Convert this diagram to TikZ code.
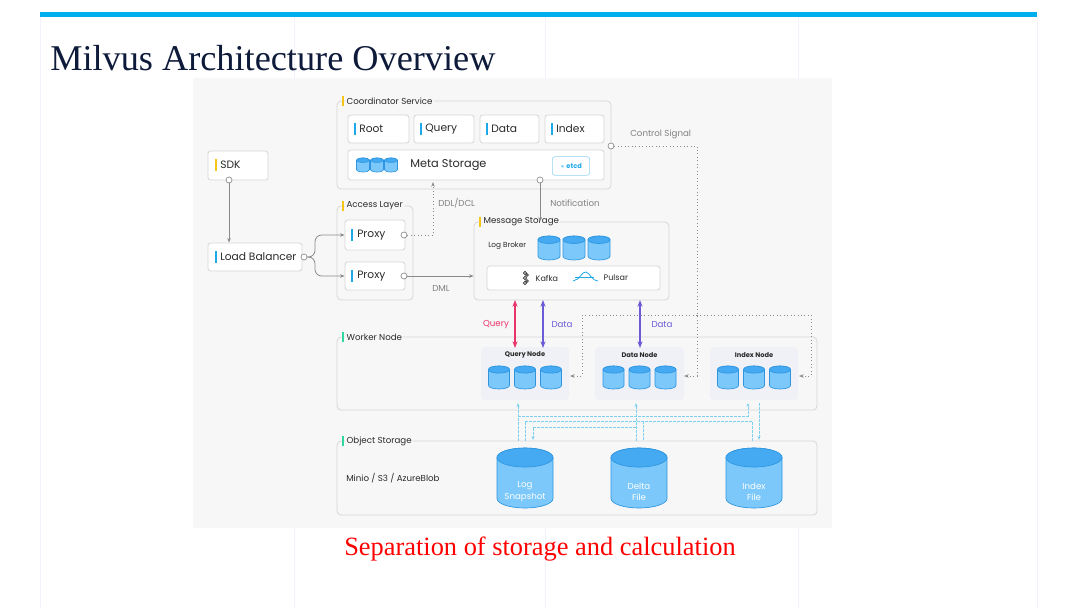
\documentclass[tikz,border=0pt]{standalone}
\usepackage{fontspec}
\setmainfont{Liberation Serif}
\newfontfamily\pop{Poppins}
\usetikzlibrary{fit,arrows.meta,calc}
\definecolor{dbg}{HTML}{F7F7F7}
\definecolor{bord}{HTML}{D6D6D6}
\definecolor{txt}{HTML}{2A2A2A}
\definecolor{yelbar}{HTML}{F5C518}
\definecolor{bbar}{HTML}{1FA8E8}
\definecolor{grnbar}{HTML}{2ED8A0}
\definecolor{cylf}{HTML}{7CC8FB}
\definecolor{cylt}{HTML}{45AAF2}
\definecolor{cylb}{HTML}{2E96E0}
\definecolor{qred}{HTML}{E8336B}
\definecolor{dpur}{HTML}{6B5BD6}
\definecolor{lblue}{HTML}{7DD0F0}
\definecolor{conn}{HTML}{8A8A8A}
\definecolor{slideblue}{HTML}{00AEEF}
\definecolor{navy}{HTML}{0E1A3A}
\newcommand\mycyl[4]{% cx, top y, width, height
  \pgfmathsetmacro\cxx{#1}\pgfmathsetmacro\rx{#3/2}\pgfmathsetmacro\ry{#3*0.17}
  \fill[cylf,draw=cylb,line width=0.5pt] (\cxx-\rx,#2+\ry) -- (\cxx-\rx,#2+#4-\ry) arc[start angle=180,end angle=0,x radius=\rx,y radius=\ry] -- (\cxx+\rx,#2+\ry) arc[start angle=0,end angle=-180,x radius=\rx,y radius=\ry] -- cycle;
  \fill[cylt,draw=cylb,line width=0.5pt] (\cxx,#2+\ry) ellipse[x radius=\rx,y radius=\ry];
}
\tikzset{
  x=0.75pt,y=-0.75pt,
  grp/.style={draw=bord,fill=dbg,rounded corners=3pt,inner sep=0pt,line width=0.6pt},
  box/.style={draw=bord,fill=white,rounded corners=2pt,inner sep=0pt,line width=0.6pt},
  sub/.style={draw=none,fill=blue!3!dbg,rounded corners=3pt,inner sep=0pt},
  lab/.style={anchor=west,font=\pop\fontsize{6.5}{7}\selectfont,text=txt,inner sep=1pt,fill=dbg},
  blab/.style={anchor=west,font=\pop\fontsize{8}{9}\selectfont,text=txt,inner sep=0pt},
  glab/.style={font=\pop\fontsize{6.5}{7}\selectfont,text=gray,anchor=west,inner sep=0pt},
  port/.style={circle,draw=conn,fill=white,inner sep=0pt,minimum size=4.5pt,line width=0.5pt},
  ar/.style={draw=conn,line width=0.6pt,-{Stealth[length=3.5pt]}},
  dar/.style={draw=conn,line width=0.6pt,dotted,-{Stealth[length=3.5pt]}},
  lb/.style={draw=lblue,line width=0.6pt,dashed,dash pattern=on 2pt off 1pt},
  lba/.style={lb,-{Stealth[length=3pt]}},
  cyltext/.style={text=white,font=\pop\fontsize{6.5}{8}\selectfont,inner sep=0pt},
}
\newcommand\gbarlab[4]{\draw[draw=#3,line width=1.2pt] (#1,#2-5) -- (#1,#2+5); \node[lab,anchor=west] at (#1+2,#2) {#4};}
\newcommand\bbar[2]{\draw[draw=bbar,line width=1.2pt] (#1,#2-6) -- (#1,#2+6);}
\begin{document}
\begin{tikzpicture}
\useasboundingbox (0,0) rectangle (1080,608);
\fill[white] (0,0) rectangle (1080,608);
% slide decoration
\foreach \xx in {40,294,545,798,1037} {\draw[blue!5,line width=0.6pt] (\xx,17) -- (\xx,608);}
\fill[slideblue] (40,12) rectangle (1037,17);
\node[anchor=base west,inner sep=0,text=navy,font=\fontsize{27.2}{30}\selectfont] (title) at (50,70) {Milvus Architecture Overview};
\fill[dbg] (193,78) rectangle (832,528);
\node[text=red,font=\fontsize{19.8}{22}\selectfont,inner sep=0] (cap) at (540,549) {Separation of storage and calculation};

% Coordinator
\node[grp,fit={(337,101)(611,189)}] (coord) {};
\gbarlab{343}{101}{yelbar}{Coordinator Service}
\foreach \nm/\a/\b/\t in {root/348/409/Root,query/414/474/Query,data/480/539/Data,index/545/604/Index}{
  \node[box,fit={(\a,115)(\b,143)}] (\nm) {};
  \bbar{\a+7}{129}
  \node[blab] at (\a+11,129) {\t};
}
\node[box,fit={(348,150)(604,180)}] (meta) {};
\foreach \cx in {363,377,391} {\mycyl{\cx}{158}{13}{14}}
\node[blab,font=\pop\fontsize{8.5}{9}\selectfont] at (410,165) {Meta Storage};
\node[draw=bbar!50,fill=white,rounded corners=2pt,minimum width=28pt,minimum height=14pt,font=\pop\bfseries\fontsize{5}{5}\selectfont,text=bbar] (etcd) at (571,166) {$\ast$\ etcd};

% SDK / LB
\node[box,fit={(208,151)(268,180)}] (sdk) {};
\draw[draw=yelbar,line width=1.2pt] (216,159) -- (216,171);
\node[blab] at (220,165) {SDK};
\node[box,fit={(208,243)(302,271)}] (lb) {};
\bbar{216}{257}
\node[blab] at (220,257) {Load Balancer};
\node[port] (sdkp) at (229,180) {};
\draw[ar] (sdkp) -- (lb.north -| sdkp);

% Access layer
\node[grp,fit={(337,206)(413,300)}] (access) {};
\gbarlab{343}{206}{yelbar}{Access Layer}
\node[box,fit={(345,220)(405,250)}] (proxy1) {};
\node[box,fit={(345,262)(405,290)}] (proxy2) {};
\bbar{352}{235}\node[blab] at (357,235) {Proxy};
\bbar{352}{276}\node[blab] at (357,276) {Proxy};
\node[port] (lbp) at (304,257) {};
\draw[ar,rounded corners=5pt] (lbp) -- (315,257) -- (315,235) -- (proxy1.west);
\draw[ar,rounded corners=5pt] (lbp) -- (315,257) -- (315,276) -- (proxy2.west);
\node[port] (p1p) at (404,235) {};
\node[port] (p2p) at (404,276) {};

% Message storage
\node[grp,fit={(474,222)(669,300)}] (msg) {};
\gbarlab{480}{222}{yelbar}{Message Storage}
\node[anchor=west,inner sep=0,font=\pop\fontsize{5.5}{6}\selectfont,text=txt] at (488,246) {Log Broker};
\foreach \cx in {549,574,599} {\mycyl{\cx}{236}{22}{24}}
\node[box,fit={(487,266)(660,290)}] (kp) {};
\foreach \dy in {-5,0,5} {\draw[txt,line width=0.5pt] (525,278+\dy) circle[radius=1.6];}
\draw[txt,line width=0.5pt] (527,275) circle[radius=1.3] (527,281) circle[radius=1.3];
\node[font=\pop\fontsize{6}{6}\selectfont,text=txt,anchor=west] at (531,278) {Kafka};
\draw[bbar,line width=0.6pt] (573,281) .. controls (580,280) and (582,271) .. (586,272) .. controls (590,273) and (592,281) .. (598,281);
\draw[bbar,line width=0.6pt] (575,277) -- (594,277);
\node[font=\pop\fontsize{6}{6}\selectfont,text=txt,anchor=west] at (599,278) {Pulsar};

% connectors top
\draw[dar] (p1p) -- (433,235) -- (433,182);
\node[glab] at (438,203) {DDL/DCL};
\draw[ar] (p2p) -- (msg.west |- p2p);
\node[glab] at (432,288) {DML};
\node[port] (notp) at (540,180) {};
\draw[ar] (notp) -- (msg.north -| notp);
\node[glab] at (550,203) {Notification};
\node[port] (ctlp) at (611,146) {};
\node[glab] at (630,134) {Control Signal};

% Worker node
\node[grp,fit={(337,337)(817,410)}] (worker) {};
\gbarlab{343}{337}{grnbar}{Worker Node}
\foreach \nm/\a/\b/\t in {qn/481/569/Query Node,dn/595/684/Data Node,in/710/798/Index Node}{
  \node[sub,fit={(\a,347)(\b,400)}] (\nm) {};
  \pgfmathsetmacro\mx{(\a+\b)/2}
  \node[font=\pop\bfseries\fontsize{5}{5}\selectfont,text=txt] at (\mx,355) {\t};
  \foreach \k in {-26,0,26} {\mycyl{\mx+\k}{366}{21}{23}}
}
\draw[dar] (ctlp) -- (697,146) -- (697,376) -- (684,376);
\draw[dar] (697,315) -- (582,315) -- (582,376) -- (570,376);
\draw[dar] (697,315) -- (811,315) -- (811,376) -- (799,376);

% vertical double arrows
\draw[qred,line width=1pt,{Stealth[length=5pt]}-{Stealth[length=5pt]}] (515,300) -- (515,348);
\draw[dpur,line width=1pt,{Stealth[length=5pt]}-{Stealth[length=5pt]}] (543,300) -- (543,348);
\draw[dpur,line width=1pt,{Stealth[length=5pt]}-{Stealth[length=5pt]}] (640,300) -- (640,348);
\node[font=\pop\fontsize{6.5}{7}\selectfont,text=qred] at (496,325) {Query};
\node[font=\pop\fontsize{6.5}{7}\selectfont,text=dpur] at (562,325) {Data};
\node[font=\pop\fontsize{6.5}{7}\selectfont,text=dpur] at (662,325) {Data};

% Object storage
\node[grp,fit={(337,441)(817,515)}] (obj) {};
\gbarlab{343}{441}{grnbar}{Object Storage}
\node[anchor=west,inner sep=0,font=\pop\fontsize{6.5}{7}\selectfont,text=txt] at (346,478) {Minio / S3 / AzureBlob};
\mycyl{525}{448}{56}{60}
\mycyl{639}{448}{56}{60}
\mycyl{754}{448}{56}{60}
\node[cyltext] at (525,486) {Log};
\node[cyltext] at (525,497) {Snapshot};
\node[cyltext] at (639,486) {Delta};
\node[cyltext] at (639,497) {File};
\node[cyltext] at (754,486) {Index};
\node[cyltext] at (754,497) {File};
% light blue dashed
\draw[lba] (518,441) -- (518,403);
\draw[lba] (518,416) -- (748,416) -- (748,403);
\draw[lba] (636,441) -- (636,403);
\draw[lb] (525,441) -- (525,421) -- (752,421) -- (752,441);
\draw[lb] (643,421) -- (643,441);
\draw[lba] (636,427) -- (533,427) -- (533,440);
\draw[lba] (759,403) -- (759,440);
\end{tikzpicture}
\end{document}
